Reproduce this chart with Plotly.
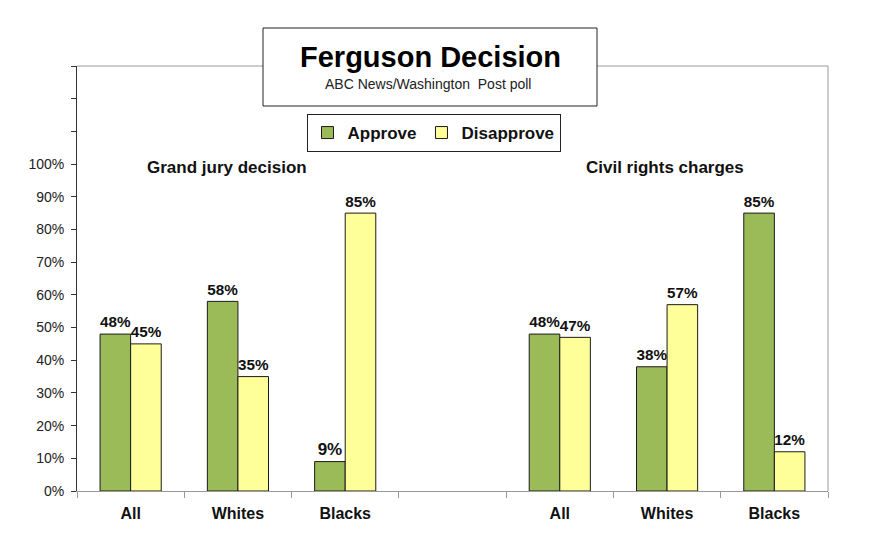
import plotly.graph_objects as go

# ---- data ----
groups = ["All", "Whites", "Blacks"]
grand_approve = [48, 58, 9]
grand_disapprove = [45, 35, 85]
civil_approve = [48, 38, 85]
civil_disapprove = [47, 57, 12]
section_labels = ["Grand jury decision", "Civil rights charges"]
title_text = "Ferguson Decision"
subtitle_text = "ABC News/Washington\u00a0 Post poll"
y_ticks = [0, 10, 20, 30, 40, 50, 60, 70, 80, 90, 100]

# category slots: 3 groups, a gap, 3 groups (trailing space keeps keys unique)
gap = "gap"
cats = groups + [gap] + [g + " " for g in groups]
label_cats = [c for c in cats if c != gap]
approve = grand_approve + [None] + civil_approve
disapprove = grand_disapprove + [None] + civil_disapprove

FONT = "Arial, Liberation Sans, sans-serif"
GREEN = "#9BBB59"
YELLOW = "#FFFF99"

# page body has an 8px default margin: place figure so plot area lands right
OFF = 8
W, H = 896 - OFF, 555 - OFF
PL, PR, PT, PB = 77, 828, 66, 491  # desired plot area in window pixels


def px(x):
    return (x - PL) / (PR - PL)


def py(y):
    return (PB - y) / (PB - PT)


def labels(vals):
    return [("" if v is None else f"{v}%") for v in vals]


fig = go.Figure()
for name, vals, col in [("Approve", approve, GREEN), ("Disapprove", disapprove, YELLOW)]:
    fig.add_trace(go.Bar(
        x=cats, y=vals, name=f"<b>{name}</b>",
        marker=dict(color=col, line=dict(color="#1a1a1a", width=1)),
        text=labels(vals), textposition="outside",
        textfont=dict(family=FONT, size=17, color="#111"),
        texttemplate="<b>%{text}</b>", cliponaxis=False,
    ))

# invisible helper trace on a numeric overlay axis that carries the boundary ticks
n = len(cats)
fig.add_trace(go.Scatter(x=[-0.5, n - 0.5], y=[0, 0], xaxis="x2", mode="lines",
                         line=dict(width=0), hoverinfo="skip", showlegend=False))

fig.update_layout(
    width=W, height=H,
    margin=dict(l=PL - OFF, r=W - (PR - OFF), t=PT - OFF, b=H - (PB - OFF)),
    paper_bgcolor="white", plot_bgcolor="white",
    barmode="group", bargap=0.43, bargroupgap=0,
    font=dict(family=FONT, color="#222"),
    showlegend=True,
    legend=dict(
        orientation="h", x=px(433.5), xanchor="center", y=py(114), yanchor="top",
        bordercolor="#222", borderwidth=1, bgcolor="white",
        font=dict(family=FONT, size=17, color="#111"),
        itemwidth=30, traceorder="normal",
    ),
    xaxis=dict(
        type="category", categoryorder="array", categoryarray=cats,
        range=[-0.5, n - 0.5],
        tickvals=label_cats, ticktext=[f"<b>{c.strip()}</b>" for c in label_cats],
        ticks="outside", ticklen=4, tickcolor="rgba(0,0,0,0)",
        showline=True, linecolor="#999", linewidth=1,
        tickfont=dict(family=FONT, size=16, color="#111"),
        ticklabelstandoff=4,
        showgrid=False, fixedrange=True,
    ),
    xaxis2=dict(
        overlaying="x", anchor="y", side="bottom",
        range=[-0.5, n - 0.5], tickmode="linear", tick0=-0.5, dtick=1,
        ticks="outside", ticklen=6, tickcolor="#999", showticklabels=False,
        showline=False, showgrid=False, zeroline=False, fixedrange=True,
    ),
    yaxis=dict(
        range=[0, 130], tickvals=y_ticks,
        ticktext=[f"{v}%" for v in y_ticks],
        ticks="outside", ticklen=5, tickcolor="#333",
        minor=dict(ticks="outside", tick0=0, dtick=10, ticklen=5, tickcolor="#333"),
        showline=True, linecolor="#333", linewidth=1,
        showgrid=False, zeroline=False,
        tickfont=dict(family=FONT, size=14, color="#222"),
        ticklabelstandoff=4,
        fixedrange=True,
    ),
)

# plot frame top/right (gray)
fig.add_shape(type="line", xref="paper", yref="paper", x0=0, x1=1, y0=1, y1=1,
              line=dict(color="#999", width=1))
fig.add_shape(type="line", xref="paper", yref="paper", x0=1, x1=1, y0=0, y1=1,
              line=dict(color="#999", width=1))

# title box
fig.add_shape(type="rect", xref="paper", yref="paper",
              x0=px(263), x1=px(597), y0=py(106), y1=py(28),
              line=dict(color="#222", width=1), fillcolor="white", layer="above")
fig.add_annotation(xref="paper", yref="paper", x=px(430), y=py(57),
                   text=f"<b>{title_text}</b>", showarrow=False,
                   font=dict(family=FONT, size=29, color="#000"),
                   xanchor="center", yanchor="middle")
fig.add_annotation(xref="paper", yref="paper", x=px(428), y=py(84),
                   text=subtitle_text, showarrow=False,
                   font=dict(family=FONT, size=14, color="#222"),
                   xanchor="center", yanchor="middle")

# section labels
for lbl, cx in zip(section_labels, [227, 665]):
    fig.add_annotation(xref="paper", yref="paper", x=px(cx), y=py(167),
                       text=f"<b>{lbl}</b>", showarrow=False,
                       font=dict(family=FONT, size=17, color="#111"),
                       xanchor="center", yanchor="middle")

fig.write_html("out.html")
